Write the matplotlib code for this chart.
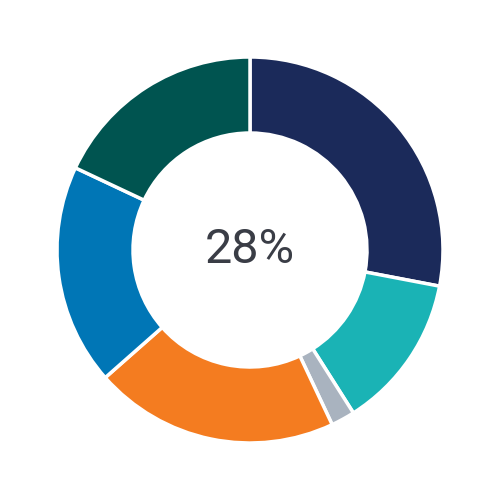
import matplotlib
matplotlib.use("Agg")
import matplotlib.pyplot as plt

labels = ["A", "B", "C", "D", "E", "F"]
shares = [28, 13, 2, 20.5, 18.5, 18]
colors = ["#1b2a5a", "#1ab3b5", "#a9b3bf", "#f47c20", "#0076b6", "#005450"]
center_text = "28%"

fig = plt.figure(figsize=(5, 5), dpi=100)
ax = fig.add_axes([0, 0, 1, 1])
ax.pie(shares, colors=colors, startangle=90, counterclock=False,
       radius=0.772,
       wedgeprops=dict(width=0.304, edgecolor="white", linewidth=2.5))
ax.text(0, 0, center_text, ha="center", va="center", fontsize=35,
        family="Roboto", color="#3a3d46")
ax.set_xlim(-1, 1)
ax.set_ylim(-1, 1)
ax.set_aspect("equal")
ax.axis("off")

fig.savefig("out.png", dpi=100)
